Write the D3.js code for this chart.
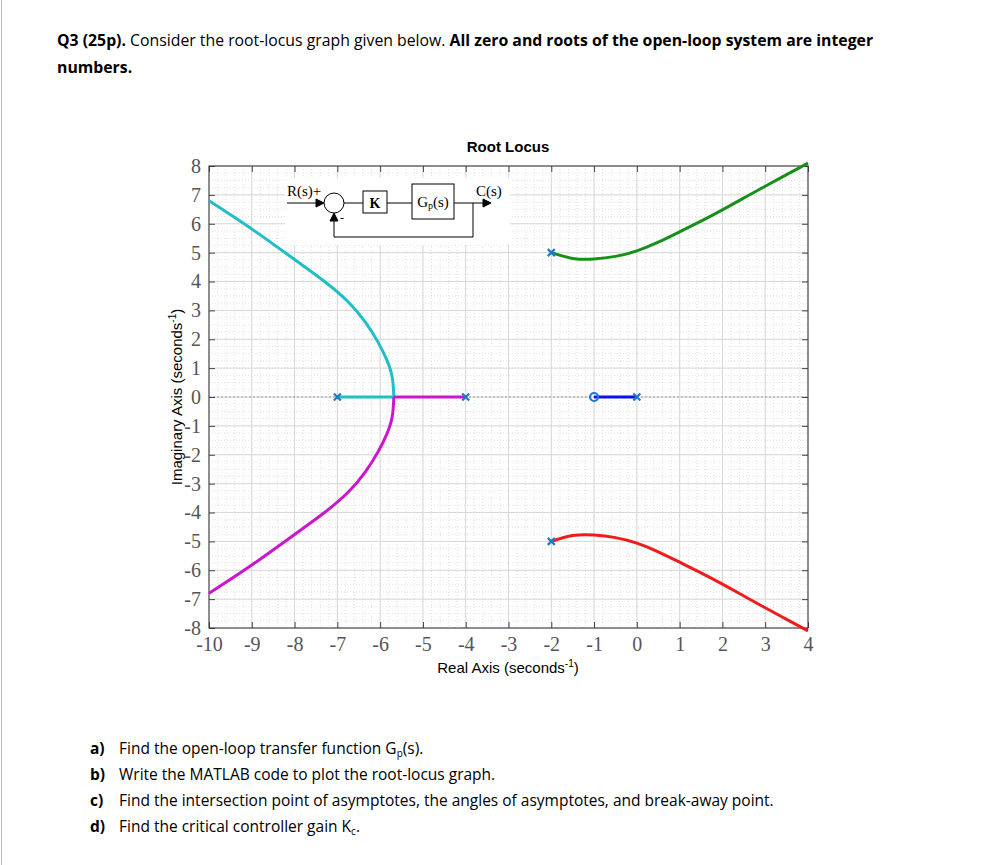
<!DOCTYPE html>
<html><head><meta charset="utf-8">
<script src="https://cdn.jsdelivr.net/npm/d3@7"></script>
<style>body{margin:0;background:#fff}</style></head>
<body><svg id="c" width="987" height="865"></svg>
<script>
const xTicks = [-10,-9,-8,-7,-6,-5,-4,-3,-2,-1,0,1,2,3,4];
const yTicks = [8,7,6,5,4,3,2,1,0,-1,-2,-3,-4,-5,-6,-7,-8];
const poles = [[-7,0],[-4,0],[0,0],[-2,5],[-2,-5]];
const zeros = [[-1,0]];
const cyan = [[-7,0],[-5.68,0],[-5.72,0.7],[-5.85,1.3],[-6.05,1.9],[-6.35,2.6],[-6.75,3.3],[-7.3,4.0],[-8,4.76],[-9,5.82],[-10,6.8]];
const magenta = [[-4,0],[-5.68,0],[-5.72,-0.7],[-5.85,-1.3],[-6.05,-1.9],[-6.35,-2.6],[-6.75,-3.3],[-7.3,-4.0],[-8,-4.76],[-9,-5.82],[-10,-6.8]];
const green = [[-2,5],[-1.5,4.8],[-1,4.78],[-0.5,4.87],[0,5.06],[0.5,5.36],[1,5.72],[1.5,6.09],[2,6.48],[2.5,6.89],[3,7.3],[3.5,7.7],[4,8.1]];
const red = [[-2,-5],[-1.5,-4.8],[-1,-4.78],[-0.5,-4.87],[0,-5.06],[0.5,-5.36],[1,-5.72],[1.5,-6.09],[2,-6.48],[2.5,-6.89],[3,-7.3],[3.5,-7.7],[4,-8.1]];
const blue = [[-1,0],[0,0]];

const svg = d3.select("#c");
const L=209,R=808,T=166,B=628;
const x = d3.scaleLinear().domain([-10,4]).range([L,R]);
const y = d3.scaleLinear().domain([-8,8]).range([B,T]);
svg.append("line").attr("x1",1.5).attr("x2",1.5).attr("y1",0).attr("y2",865).attr("stroke","#bbb");

const ff="'Open Sans','Liberation Sans',sans-serif";
const t1=svg.append("text").attr("x",57).attr("y",46).attr("font-family",ff).attr("font-size",15.8).attr("fill","#000");
t1.append("tspan").attr("font-weight","bold").text("Q3 (25p). ");
t1.append("tspan").text("Consider the root-locus graph given below. ");
t1.append("tspan").attr("font-weight","bold").text("All zero and roots of the open-loop system are integer");
svg.append("text").attr("x",57).attr("y",73).attr("font-family",ff).attr("font-size",15.8).attr("font-weight","bold").text("numbers.");

const g=svg.append("g");
for(let v=-10;v<=4.001;v+=0.2){g.append("line").attr("x1",x(v)).attr("x2",x(v)).attr("y1",T).attr("y2",B).attr("stroke","#ccc").attr("stroke-width",0.6).attr("stroke-dasharray","1,2");}
for(let v=-8;v<=8.001;v+=0.25){g.append("line").attr("y1",y(v)).attr("y2",y(v)).attr("x1",L).attr("x2",R).attr("stroke","#ccc").attr("stroke-width",0.6).attr("stroke-dasharray","1,2");}
xTicks.forEach(v=>g.append("line").attr("x1",x(v)).attr("x2",x(v)).attr("y1",T).attr("y2",B).attr("stroke","#d8d8d8"));
yTicks.forEach(v=>g.append("line").attr("y1",y(v)).attr("y2",y(v)).attr("x1",L).attr("x2",R).attr("stroke","#d8d8d8"));
g.append("line").attr("x1",L).attr("x2",R).attr("y1",y(0)).attr("y2",y(0)).attr("stroke","#888").attr("stroke-dasharray","2,2").attr("stroke-width",0.8);

const fmt=d=>String(d);
svg.append("g").attr("transform",`translate(0,${B})`).call(d3.axisBottom(x).tickValues(xTicks).tickSize(-6).tickPadding(9).tickFormat(fmt)).call(a=>a.select(".domain").remove());
svg.append("g").attr("transform",`translate(0,${T})`).call(d3.axisTop(x).tickValues(xTicks).tickSize(-6).tickFormat("")).call(a=>a.select(".domain").remove());
svg.append("g").attr("transform",`translate(${L},0)`).call(d3.axisLeft(y).tickValues(yTicks).tickSize(-6).tickPadding(8).tickFormat(fmt)).call(a=>a.select(".domain").remove());
svg.append("g").attr("transform",`translate(${R},0)`).call(d3.axisRight(y).tickValues(yTicks).tickSize(-6).tickFormat("")).call(a=>a.select(".domain").remove());
svg.selectAll(".tick line").attr("stroke","#444");
svg.selectAll(".tick text").attr("font-family","'Liberation Serif','DejaVu Serif',serif").attr("font-size",20).attr("fill","#555");
svg.append("rect").attr("x",L).attr("y",T).attr("width",R-L).attr("height",B-T).attr("fill","none").attr("stroke","#333");

// block diagram
svg.append("rect").attr("x",285).attr("y",178).attr("width",225).attr("height",67).attr("fill","#fff");
const bb=svg.append("g").attr("stroke","#000").attr("fill","none").attr("stroke-width",1);
bb.append("line").attr("x1",287).attr("y1",203).attr("x2",320).attr("y2",203);
bb.append("path").attr("d","M316,199 L324,203 L316,207 Z").attr("fill","#000");
bb.append("circle").attr("cx",334).attr("cy",203).attr("r",10);
bb.append("line").attr("x1",344).attr("y1",203).attr("x2",363).attr("y2",203);
bb.append("rect").attr("x",363).attr("y",191).attr("width",24).attr("height",22);
bb.append("line").attr("x1",387).attr("y1",203).attr("x2",412).attr("y2",203);
bb.append("rect").attr("x",412).attr("y",184).attr("width",42).attr("height",35);
bb.append("line").attr("x1",454).attr("y1",203).attr("x2",487).attr("y2",203);
bb.append("path").attr("d","M483,199 L491,203 L483,207 Z").attr("fill","#000");
bb.append("path").attr("d","M473,203 V237 H334 V217");
bb.append("path").attr("d","M330,221 L334,213 L338,221 Z").attr("fill","#000");
const sf="'Liberation Serif','DejaVu Serif',serif";
svg.append("text").attr("x",287).attr("y",196).attr("font-family",sf).attr("font-size",15).text("R(s)+");
svg.append("text").attr("x",375).attr("y",208).attr("font-family",sf).attr("font-size",14).attr("font-weight","bold").attr("text-anchor","middle").text("K");
svg.append("text").attr("x",433).attr("y",207).attr("font-family",sf).attr("font-size",15).attr("text-anchor","middle").html("G<tspan font-size='10' dy='2'>p</tspan><tspan dy='-2'>(s)</tspan>");
svg.append("text").attr("x",476).attr("y",196).attr("font-family",sf).attr("font-size",15).text("C(s)");
svg.append("text").attr("x",340).attr("y",222).attr("font-family",sf).attr("font-size",12).text("-");

const cur=d3.line().x(d=>x(d[0])).y(d=>y(d[1])).curve(d3.curveNatural);
const straight=d3.line().x(p=>x(p[0])).y(p=>y(p[1]));
[[cyan,"#1fbfc5"],[magenta,"#cc16cc"]].forEach(([d,c])=>{
  svg.append("path").attr("d",straight(d.slice(0,2))).attr("stroke",c).attr("stroke-width",3).attr("fill","none");
  svg.append("path").attr("d",cur(d.slice(1))).attr("stroke",c).attr("stroke-width",3).attr("fill","none");
});
svg.append("path").attr("d",cur(green)).attr("stroke","#17901a").attr("stroke-width",3).attr("fill","none");
svg.append("path").attr("d",cur(red)).attr("stroke","#f01c1c").attr("stroke-width",3).attr("fill","none");
svg.append("path").attr("d",straight(blue)).attr("stroke","#0a10f0").attr("stroke-width",3).attr("fill","none");
poles.forEach(p=>{const px=x(p[0]),py=y(p[1]);svg.append("path").attr("d",`M${px-3.5},${py-3.5}L${px+3.5},${py+3.5}M${px-3.5},${py+3.5}L${px+3.5},${py-3.5}`).attr("stroke","#1f78c8").attr("stroke-width",2.2);});
zeros.forEach(p=>svg.append("circle").attr("cx",x(p[0])).attr("cy",y(p[1])).attr("r",4).attr("fill","none").attr("stroke","#1f78c8").attr("stroke-width",2.2));

const af="'Liberation Sans',Arial,sans-serif";
svg.append("text").attr("x",508).attr("y",152).attr("text-anchor","middle").attr("font-family",af).attr("font-size",15).attr("font-weight","bold").text("Root Locus");
svg.append("text").attr("x",508).attr("y",673).attr("text-anchor","middle").attr("font-family",af).attr("font-size",15).html("Real Axis (seconds<tspan font-size='10' dy='-6'>-1</tspan><tspan dy='6'>)</tspan>");
svg.append("text").attr("transform","translate(182,397) rotate(-90)").attr("text-anchor","middle").attr("font-family",af).attr("font-size",15).html("Imaginary Axis (seconds<tspan font-size='10' dy='-6'>-1</tspan><tspan dy='6'>)</tspan>");

const qs=[["a)","Find the open-loop transfer function G","p","(s)."],["b)","Write the MATLAB code to plot the root-locus graph.","",""],["c)","Find the intersection point of asymptotes, the angles of asymptotes, and break-away point.","",""],["d)","Find the critical controller gain K","c","."]];
qs.forEach((q,i)=>{const yy=754+i*26;
 svg.append("text").attr("x",90).attr("y",yy).attr("font-family",ff).attr("font-size",15.5).attr("font-weight","bold").text(q[0]);
 const t=svg.append("text").attr("x",119).attr("y",yy).attr("font-family",ff).attr("font-size",15.5).text(q[1]);
 if(q[2]){t.append("tspan").attr("font-size",10).attr("dy",3).text(q[2]);t.append("tspan").attr("dy",-3).text(q[3]);}
});
</script></body></html>
